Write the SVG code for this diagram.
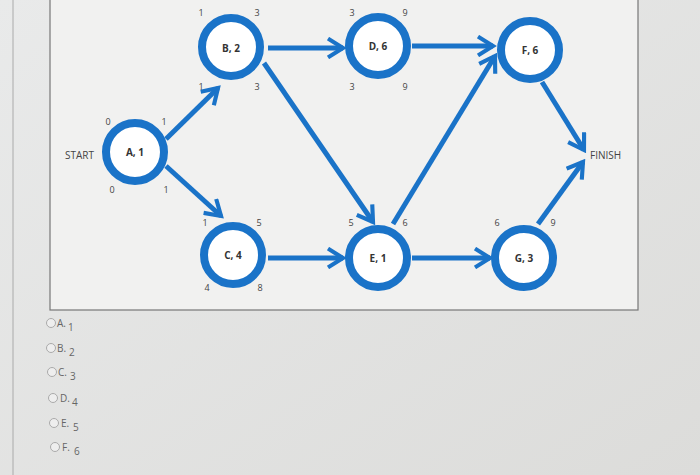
<svg xmlns="http://www.w3.org/2000/svg" width="700" height="475" viewBox="0 0 700 475">
<defs>
<marker id="ah" viewBox="0 0 12 12" refX="10" refY="6" markerWidth="4.5" markerHeight="4.5" orient="auto" markerUnits="strokeWidth">
<path d="M2,1 L10,6 L2,11" fill="none" stroke="#1a73c8" stroke-width="2.2" stroke-linejoin="miter"/>
</marker>
<linearGradient id="bg" x1="0" y1="0" x2="1" y2="1"><stop offset="0" stop-color="#e9eaea"/><stop offset="1" stop-color="#dcdcda"/></linearGradient>
</defs>
<style>
.n{fill:#fff;stroke:#1a73c8;stroke-width:8}
.l{font-family:"Open Sans","Liberation Sans",sans-serif;font-size:10px;font-weight:bold;fill:#333;text-anchor:middle}
.s{font-family:"Open Sans","Liberation Sans",sans-serif;font-size:9px;fill:#444;text-anchor:middle}
.t{font-family:"Open Sans","Liberation Sans",sans-serif;font-size:10px;fill:#444}
.e{fill:none;stroke:#1a73c8;stroke-width:5;marker-end:url(#ah)}
.o{font-family:"Open Sans","Liberation Sans",sans-serif;font-size:10px;fill:#666}
</style>
<rect width="700" height="475" fill="url(#bg)"/>
<line x1="13" y1="0" x2="13" y2="475" stroke="#aaa" stroke-width="1"/>
<rect x="50" y="-2" width="588" height="312" fill="#f1f1f0" stroke="#777" stroke-width="1.2"/>
<g id="connectors">
<line class="e" x1="166" y1="139" x2="218" y2="88"/>
<line class="e" x1="166" y1="166" x2="221" y2="216"/>
<line class="e" x1="268" y1="48" x2="343" y2="48"/>
<line class="e" x1="264" y1="63" x2="373" y2="222"/>
<line class="e" x1="268" y1="258" x2="343" y2="258"/>
<line class="e" x1="412" y1="46" x2="493" y2="46"/>
<line class="e" x1="393" y1="224" x2="495" y2="56"/>
<line class="e" x1="412" y1="258" x2="490" y2="258"/>
<line class="e" x1="542" y1="82" x2="584" y2="150"/>
<line class="e" x1="538" y1="224" x2="583" y2="162"/>
</g>
<g id="A"><circle class="n" cx="135" cy="152" r="29"/><text class="l" x="135" y="156">A, 1</text>
<text class="s" x="108" y="125">0</text><text class="s" x="164" y="125">1</text><text class="s" x="112" y="193">0</text><text class="s" x="166" y="193">1</text></g>
<g id="B"><circle class="n" cx="231" cy="47" r="29"/><text class="l" x="231" y="52">B, 2</text>
<text class="s" x="201" y="16">1</text><text class="s" x="257" y="16">3</text><text class="s" x="201" y="90">1</text><text class="s" x="257" y="90">3</text></g>
<g id="C"><circle class="n" cx="233" cy="255" r="29"/><text class="l" x="233" y="259">C, 4</text>
<text class="s" x="205" y="226">1</text><text class="s" x="259" y="226">5</text><text class="s" x="207" y="291">4</text><text class="s" x="260" y="291">8</text></g>
<g id="D"><circle class="n" cx="378" cy="46" r="29"/><text class="l" x="378" y="50">D, 6</text>
<text class="s" x="352" y="16">3</text><text class="s" x="405" y="16">9</text><text class="s" x="352" y="90">3</text><text class="s" x="405" y="90">9</text></g>
<g id="E"><circle class="n" cx="378" cy="258" r="29"/><text class="l" x="378" y="262">E, 1</text>
<text class="s" x="351" y="226">5</text><text class="s" x="405" y="226">6</text></g>
<g id="F"><circle class="n" cx="530" cy="50" r="29"/><text class="l" x="530" y="54">F, 6</text></g>
<g id="G"><circle class="n" cx="524" cy="258" r="29"/><text class="l" x="524" y="262">G, 3</text>
<text class="s" x="497" y="226">6</text><text class="s" x="553" y="226">9</text></g>
<text class="t" x="65" y="159">START</text>
<text class="t" x="590" y="159">FINISH</text>
<g id="options">
<circle cx="51" cy="323" r="4.5" fill="#eee" stroke="#aaa"/><text class="o" x="57" y="327">A.</text><text class="o" x="68" y="331">1</text>
<circle cx="51" cy="348" r="4.5" fill="#eee" stroke="#aaa"/><text class="o" x="57" y="352">B.</text><text class="o" x="69" y="356">2</text>
<circle cx="52" cy="372" r="4.5" fill="#eee" stroke="#aaa"/><text class="o" x="58" y="376">C.</text><text class="o" x="70" y="380">3</text>
<circle cx="53" cy="398" r="4.5" fill="#eee" stroke="#aaa"/><text class="o" x="60" y="402">D.</text><text class="o" x="72" y="406">4</text>
<circle cx="54" cy="423" r="4.5" fill="#eee" stroke="#aaa"/><text class="o" x="61" y="427">E.</text><text class="o" x="73" y="431">5</text>
<circle cx="55" cy="447" r="4.5" fill="#eee" stroke="#aaa"/><text class="o" x="62" y="451">F.</text><text class="o" x="74" y="455">6</text>
</g>
</svg>
